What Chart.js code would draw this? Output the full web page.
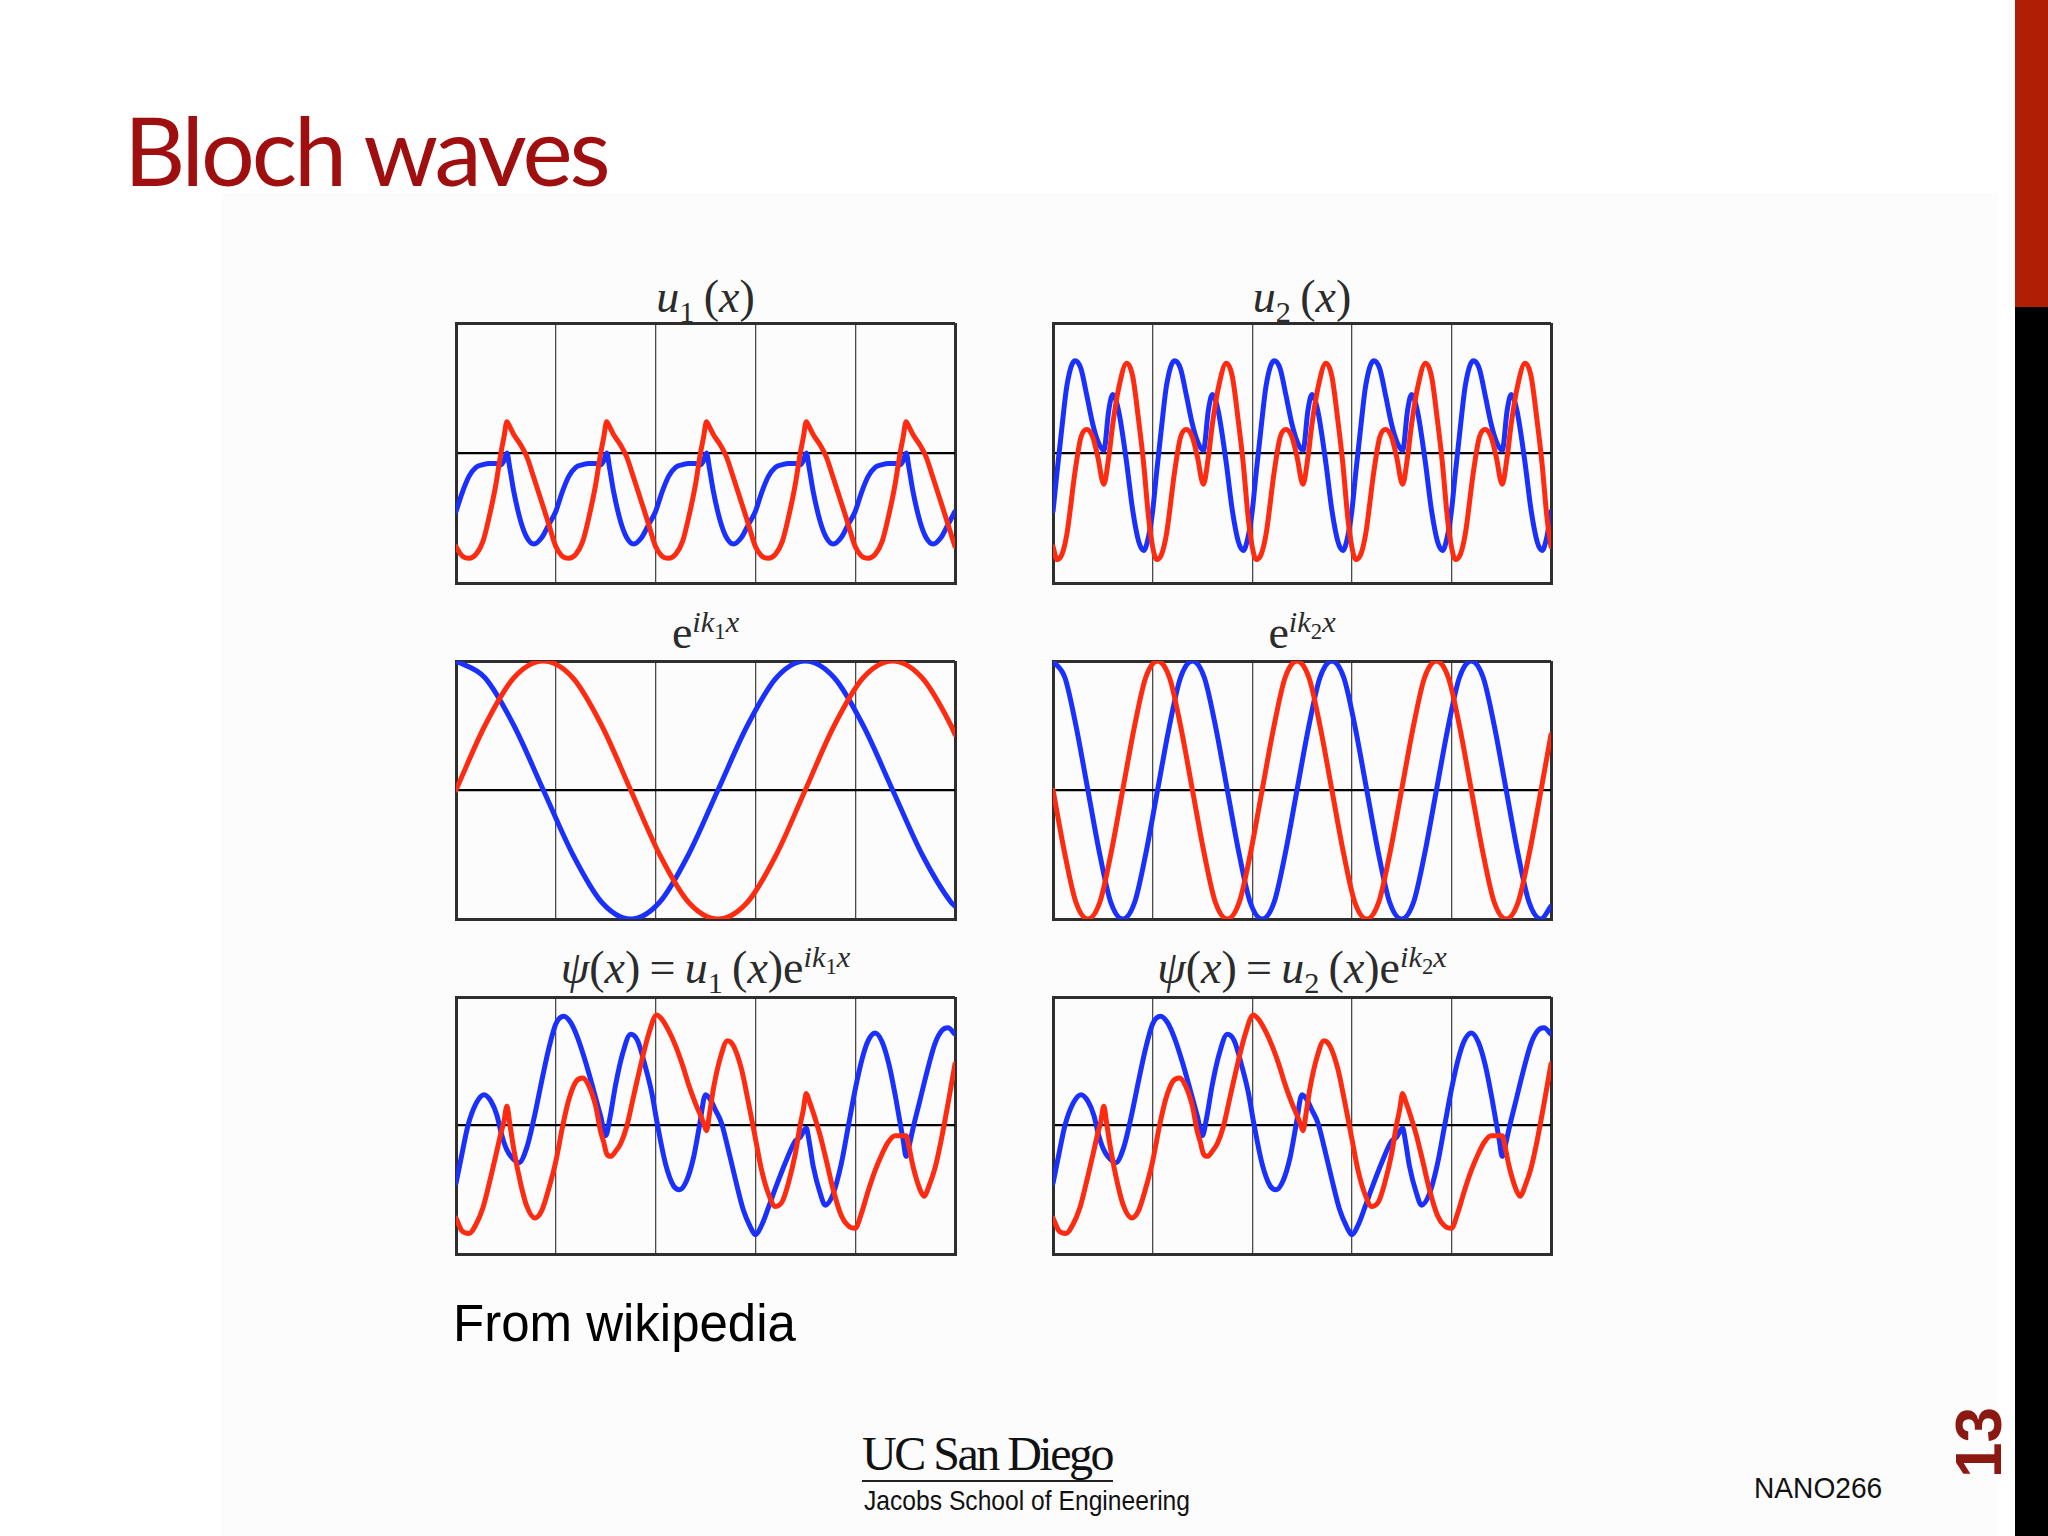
<!DOCTYPE html>
<html><head><meta charset="utf-8">
<script src="https://cdn.jsdelivr.net/npm/chart.js@4.4.1/dist/chart.umd.min.js"></script>
<style>
html,body{margin:0;padding:0;background:#fff;}
body{width:2048px;height:1536px;position:relative;overflow:hidden;font-family:'Liberation Sans',Arial,sans-serif;}
canvas{position:absolute;}
.abs{position:absolute;white-space:nowrap;}
.ttl{position:absolute;text-align:center;font-family:'Liberation Serif','DejaVu Serif',serif;font-size:46px;line-height:46px;color:#2b2b2b;white-space:nowrap;}
.ttl sub,.ttl sup{font-size:0.66em;line-height:0;}
.ttl sup sub{font-size:0.75em;}
</style></head><body>

<div class="abs" style="left:222px;top:193px;width:1776px;height:1343px;background:#fcfcfc;"></div>
<div class="abs" style="left:124px;top:89px;font-family:Lato,'Open Sans',sans-serif;font-size:95px;line-height:120px;color:#a00f10;letter-spacing:-3px;">Bloch waves</div>
<div class="abs" style="left:2015px;top:0;width:33px;height:307px;background:#b01e05;"></div>
<div class="abs" style="left:2015px;top:307px;width:33px;height:1229px;background:#000;"></div>

<div class="ttl" style="left:456px;top:274px;width:499px;"><i>u</i><sub>1</sub>&#8201;(<i>x</i>)</div>
<div class="ttl" style="left:1053px;top:274px;width:498px;"><i>u</i><sub>2</sub>&#8201;(<i>x</i>)</div>
<div class="ttl" style="left:456px;top:610px;width:499px;">e<sup><i>ik</i><sub>1</sub><i>x</i></sup></div>
<div class="ttl" style="left:1053px;top:610px;width:498px;">e<sup><i>ik</i><sub>2</sub><i>x</i></sup></div>
<div class="ttl" style="left:456px;top:945px;width:499px;"><i>ψ</i>(<i>x</i>)&#8201;=&#8201;<i>u</i><sub>1</sub>&#8201;(<i>x</i>)e<sup><i>ik</i><sub>1</sub><i>x</i></sup></div>
<div class="ttl" style="left:1053px;top:945px;width:498px;"><i>ψ</i>(<i>x</i>)&#8201;=&#8201;<i>u</i><sub>2</sub>&#8201;(<i>x</i>)e<sup><i>ik</i><sub>2</sub><i>x</i></sup></div>

<div class="abs" style="left:453px;top:1296px;font-size:51px;line-height:56px;color:#000;">From wikipedia</div>

<div class="abs" style="left:862px;top:1428px;font-family:'Liberation Serif',serif;font-size:48px;line-height:52px;letter-spacing:-2.5px;color:#111;">UC San Diego</div>
<div class="abs" style="left:862px;top:1480px;width:251px;height:2px;background:#222;"></div>
<div class="abs" style="left:864px;top:1484px;font-size:28px;line-height:34px;color:#111;transform:scaleX(0.88);transform-origin:left top;">Jacobs School of Engineering</div>
<div class="abs" style="left:1754px;top:1472px;font-size:29px;line-height:32px;color:#111;transform:scaleX(0.97);transform-origin:left top;">NANO266</div>
<div class="abs" style="left:1947px;top:1478px;font-size:64px;line-height:64px;font-weight:bold;color:#8c1812;transform:rotate(-90deg);transform-origin:left top;">13</div>

<script>
// ---- data (x in unit cells, y normalised to the panel's half-height) ----
const u1X = [0,0.06,0.13,0.2,0.27,0.33,0.4,0.45,0.48,0.51,0.54,0.58,0.65,0.71,0.78,0.86,0.93,
  1,1.06,1.13,1.2,1.27,1.33,1.4,1.45,1.48,1.51,1.54,1.58,1.65,1.71,1.78,1.86,1.93,
  2,2.06,2.13,2.2,2.27,2.33,2.4,2.45,2.48,2.51,2.54,2.58,2.65,2.71,2.78,2.86,2.93,
  3,3.06,3.13,3.2,3.27,3.33,3.4,3.45,3.48,3.51,3.54,3.58,3.65,3.71,3.78,3.86,3.93,
  4,4.06,4.13,4.2,4.27,4.33,4.4,4.45,4.48,4.51,4.54,4.58,4.65,4.71,4.78,4.86,4.93,
  5];
const u1Re = [-0.45,-0.31,-0.18,-0.11,-0.09,-0.08,-0.08,-0.09,-0.06,0,-0.12,-0.3,-0.53,-0.65,-0.7,-0.65,-0.55,
  -0.45,-0.31,-0.18,-0.11,-0.09,-0.08,-0.08,-0.09,-0.06,0,-0.12,-0.3,-0.53,-0.65,-0.7,-0.65,-0.55,
  -0.45,-0.31,-0.18,-0.11,-0.09,-0.08,-0.08,-0.09,-0.06,0,-0.12,-0.3,-0.53,-0.65,-0.7,-0.65,-0.55,
  -0.45,-0.31,-0.18,-0.11,-0.09,-0.08,-0.08,-0.09,-0.06,0,-0.12,-0.3,-0.53,-0.65,-0.7,-0.65,-0.55,
  -0.45,-0.31,-0.18,-0.11,-0.09,-0.08,-0.08,-0.09,-0.06,0,-0.12,-0.3,-0.53,-0.65,-0.7,-0.65,-0.55,
  -0.45];
const u1Im = [-0.72,-0.79,-0.81,-0.78,-0.68,-0.5,-0.24,0,0.12,0.24,0.2,0.14,0.06,-0.03,-0.19,-0.38,-0.55,
  -0.72,-0.79,-0.81,-0.78,-0.68,-0.5,-0.24,0,0.12,0.24,0.2,0.14,0.06,-0.03,-0.19,-0.38,-0.55,
  -0.72,-0.79,-0.81,-0.78,-0.68,-0.5,-0.24,0,0.12,0.24,0.2,0.14,0.06,-0.03,-0.19,-0.38,-0.55,
  -0.72,-0.79,-0.81,-0.78,-0.68,-0.5,-0.24,0,0.12,0.24,0.2,0.14,0.06,-0.03,-0.19,-0.38,-0.55,
  -0.72,-0.79,-0.81,-0.78,-0.68,-0.5,-0.24,0,0.12,0.24,0.2,0.14,0.06,-0.03,-0.19,-0.38,-0.55,
  -0.72];

const u2X = [0,0.04,0.09,0.14,0.22,0.28,0.34,0.4,0.45,0.51,0.56,0.6,0.66,0.74,0.8,0.86,0.91,0.96,
  1,1.04,1.09,1.14,1.22,1.28,1.34,1.4,1.45,1.51,1.56,1.6,1.66,1.74,1.8,1.86,1.91,1.96,
  2,2.04,2.09,2.14,2.22,2.28,2.34,2.4,2.45,2.51,2.56,2.6,2.66,2.74,2.8,2.86,2.91,2.96,
  3,3.04,3.09,3.14,3.22,3.28,3.34,3.4,3.45,3.51,3.56,3.6,3.66,3.74,3.8,3.86,3.91,3.96,
  4,4.04,4.09,4.14,4.22,4.28,4.34,4.4,4.45,4.51,4.56,4.6,4.66,4.74,4.8,4.86,4.91,4.96,
  5];
const u2Re = [-0.45,-0.15,0.2,0.52,0.71,0.65,0.44,0.22,0.09,0.02,0.33,0.45,0.32,-0.08,-0.44,-0.68,-0.75,-0.64,
  -0.45,-0.15,0.2,0.52,0.71,0.65,0.44,0.22,0.09,0.02,0.33,0.45,0.32,-0.08,-0.44,-0.68,-0.75,-0.64,
  -0.45,-0.15,0.2,0.52,0.71,0.65,0.44,0.22,0.09,0.02,0.33,0.45,0.32,-0.08,-0.44,-0.68,-0.75,-0.64,
  -0.45,-0.15,0.2,0.52,0.71,0.65,0.44,0.22,0.09,0.02,0.33,0.45,0.32,-0.08,-0.44,-0.68,-0.75,-0.64,
  -0.45,-0.15,0.2,0.52,0.71,0.65,0.44,0.22,0.09,0.02,0.33,0.45,0.32,-0.08,-0.44,-0.68,-0.75,-0.64,
  -0.45];
const u2Im = [-0.72,-0.82,-0.78,-0.62,-0.15,0.12,0.18,0.12,-0.03,-0.24,-0.03,0.22,0.5,0.69,0.59,0.25,-0.08,-0.5,
  -0.72,-0.82,-0.78,-0.62,-0.15,0.12,0.18,0.12,-0.03,-0.24,-0.03,0.22,0.5,0.69,0.59,0.25,-0.08,-0.5,
  -0.72,-0.82,-0.78,-0.62,-0.15,0.12,0.18,0.12,-0.03,-0.24,-0.03,0.22,0.5,0.69,0.59,0.25,-0.08,-0.5,
  -0.72,-0.82,-0.78,-0.62,-0.15,0.12,0.18,0.12,-0.03,-0.24,-0.03,0.22,0.5,0.69,0.59,0.25,-0.08,-0.5,
  -0.72,-0.82,-0.78,-0.62,-0.15,0.12,0.18,0.12,-0.03,-0.24,-0.03,0.22,0.5,0.69,0.59,0.25,-0.08,-0.5,
  -0.72];

const ek1X  = [0,0.29,0.58,0.875,1.17,1.46,1.75,2.04,2.33,2.625,2.92,3.21,3.5,3.79,4.08,4.375,4.67,4.96,5];
const ek1Re = [1,0.87,0.5,0,-0.5,-0.87,-1,-0.87,-0.5,0,0.5,0.87,1,0.87,0.5,0,-0.5,-0.87,-0.9];
const ek1Im = [0,0.5,0.87,1,0.87,0.5,0,-0.5,-0.87,-1,-0.87,-0.5,0,0.5,0.87,1,0.87,0.5,0.43];

const ek2X  = [0,0.12,0.23,0.35,0.47,0.58,0.7,0.82,0.93,1.05,1.17,1.28,
  1.4,1.52,1.63,1.75,1.87,1.98,2.1,2.22,2.33,2.45,2.57,2.68,
  2.8,2.92,3.03,3.15,3.27,3.38,3.5,3.62,3.73,3.85,3.97,4.08,
  4.2,4.32,4.43,4.55,4.67,4.78,4.9,5];
const ek2Re = [1,0.87,0.5,0,-0.5,-0.87,-1,-0.87,-0.5,0,0.5,0.87,
  1,0.87,0.5,0,-0.5,-0.87,-1,-0.87,-0.5,0,0.5,0.87,
  1,0.87,0.5,0,-0.5,-0.87,-1,-0.87,-0.5,0,0.5,0.87,
  1,0.87,0.5,0,-0.5,-0.87,-1,-0.9];
const ek2Im = [0,-0.5,-0.87,-1,-0.87,-0.5,0,0.5,0.87,1,0.87,0.5,
  0,-0.5,-0.87,-1,-0.87,-0.5,0,0.5,0.87,1,0.87,0.5,
  0,-0.5,-0.87,-1,-0.87,-0.5,0,0.5,0.87,1,0.87,0.5,
  0,-0.5,-0.87,-1,-0.87,-0.5,0,0.43];

const psiRe = [[0,-0.45],[0.06,-0.22],[0.12,0],[0.2,0.17],[0.28,0.24],[0.35,0.19],[0.41,0.08],[0.45,-0.05],[0.48,-0.13],[0.51,-0.19],[0.55,-0.24],[0.63,-0.29],[0.71,-0.17],[0.78,0.05],[0.86,0.35],[0.93,0.6],
  [1,0.79],[1.08,0.85],[1.15,0.8],[1.22,0.68],[1.3,0.49],[1.38,0.27],[1.45,0.07],[1.5,-0.08],[1.54,0.05],[1.6,0.32],[1.67,0.56],[1.75,0.71],[1.82,0.66],[1.9,0.45],[1.96,0.26],
  [2.02,0],[2.1,-0.3],[2.18,-0.47],[2.24,-0.5],[2.31,-0.43],[2.38,-0.25],[2.44,0],[2.5,0.24],[2.55,0.2],[2.6,0.12],[2.66,0.02],[2.72,-0.16],[2.8,-0.42],[2.88,-0.66],[2.95,-0.79],
  [3,-0.85],[3.06,-0.78],[3.13,-0.64],[3.2,-0.49],[3.3,-0.29],[3.4,-0.12],[3.45,-0.09],[3.51,-0.02],[3.54,-0.13],[3.58,-0.32],[3.65,-0.53],[3.7,-0.62],[3.78,-0.53],[3.86,-0.3],[3.93,-0.01],
  [4,0.28],[4.07,0.52],[4.13,0.66],[4.2,0.72],[4.27,0.65],[4.34,0.47],[4.4,0.24],[4.45,0.02],[4.48,-0.11],[4.51,-0.24],[4.54,-0.16],[4.58,-0.02],[4.65,0.2],[4.72,0.42],[4.8,0.64],[4.87,0.74],[4.93,0.76],[5,0.71]];
const psiIm = [[0,-0.72],[0.06,-0.82],[0.13,-0.84],[0.2,-0.77],[0.27,-0.64],[0.33,-0.46],[0.4,-0.23],[0.45,-0.06],[0.48,0.03],[0.51,0.15],[0.54,0.01],[0.58,-0.19],[0.65,-0.46],[0.71,-0.63],[0.79,-0.72],[0.86,-0.66],[0.93,-0.49],
  [1,-0.28],[1.07,0],[1.13,0.2],[1.2,0.34],[1.27,0.37],[1.33,0.31],[1.4,0.15],[1.45,-0.05],[1.48,-0.13],[1.51,-0.22],[1.55,-0.24],[1.6,-0.2],[1.65,-0.14],[1.71,-0.01],[1.78,0.23],[1.86,0.5],[1.93,0.71],
  [2.01,0.86],[2.06,0.83],[2.13,0.74],[2.2,0.62],[2.27,0.47],[2.33,0.32],[2.4,0.17],[2.45,0.08],[2.48,0.02],[2.51,-0.04],[2.54,0.09],[2.58,0.29],[2.65,0.53],[2.72,0.66],[2.78,0.62],[2.86,0.44],[2.93,0.18],
  [3,-0.1],[3.06,-0.34],[3.13,-0.53],[3.2,-0.63],[3.27,-0.59],[3.33,-0.45],[3.4,-0.22],[3.45,0.01],[3.48,0.12],[3.51,0.25],[3.54,0.19],[3.58,0.1],[3.65,-0.08],[3.71,-0.27],[3.78,-0.5],[3.86,-0.7],[3.93,-0.78],
  [4,-0.8],[4.06,-0.69],[4.13,-0.51],[4.2,-0.35],[4.27,-0.22],[4.33,-0.13],[4.4,-0.08],[4.46,-0.08],[4.51,-0.08],[4.54,-0.17],[4.58,-0.32],[4.65,-0.5],[4.69,-0.55],[4.74,-0.47],[4.8,-0.33],[4.86,-0.12],[4.93,0.17],[5,0.48]];

const xTicks = [0, 5];      // axis range in unit cells
const yTicks = [-1, 1];     // normalised amplitude range
const BLUE = '#1a30ff', RED = '#ff2b10';

// ---- helpers ----
const xy = (X, Y) => X.map((x, i) => ({x: x, y: Y[i]}));
const pairs = P => P.map(p => ({x: p[0], y: p[1]}));

function panel(box, re, im) {
  const P = 8;
  const c = document.createElement('canvas');
  c.width = box[2] + 2 * P; c.height = box[3] + 2 * P;
  c.style.left = (box[0] - P) + 'px'; c.style.top = (box[1] - P) + 'px';
  document.body.appendChild(c);
  const frame = '#2e2e2e';
  new Chart(c, {
    type: 'line',
    data: { datasets: [
      { data: im, borderColor: RED, borderWidth: 5 },
      { data: re, borderColor: BLUE, borderWidth: 5 }
    ].map(d => Object.assign(d, { pointRadius: 0, fill: false, cubicInterpolationMode: 'monotone',
                                   borderCapStyle: 'round', borderJoinStyle: 'round' })) },
    options: {
      responsive: false, animation: false, devicePixelRatio: 1, events: [],
      layout: { padding: P },
      plugins: { legend: { display: false }, tooltip: { enabled: false } },
      scales: {
        x: { type: 'linear', min: xTicks[0], max: xTicks[1], z: 1,
             ticks: { display: false, stepSize: 1 },
             grid: { drawTicks: false,
                     color: ctx => (ctx.tick && (ctx.tick.value === xTicks[0] || ctx.tick.value === xTicks[1])) ? frame : '#4a4a4a',
                     lineWidth: ctx => (ctx.tick && (ctx.tick.value === xTicks[0] || ctx.tick.value === xTicks[1])) ? 3 : 1.3 },
             border: { display: true, color: frame, width: 3 } },
        y: { type: 'linear', min: yTicks[0], max: yTicks[1], z: 1,
             ticks: { display: false, stepSize: 1 },
             grid: { drawTicks: false,
                     color: ctx => (ctx.tick && ctx.tick.value === 0) ? '#000' : frame,
                     lineWidth: ctx => (ctx.tick && ctx.tick.value === 0) ? 2.2 : 3 },
             border: { display: true, color: frame, width: 3 } }
      }
    }
  });
}

panel([456, 323, 499, 260], xy(u1X, u1Re), xy(u1X, u1Im));
panel([1053, 323, 498, 260], xy(u2X, u2Re), xy(u2X, u2Im));
panel([456, 661, 499, 258], xy(ek1X, ek1Re), xy(ek1X, ek1Im));
panel([1053, 661, 498, 258], xy(ek2X, ek2Re), xy(ek2X, ek2Im));
panel([456, 997, 499, 257], pairs(psiRe), pairs(psiIm));
panel([1053, 997, 498, 257], pairs(psiRe), pairs(psiIm));
</script>
</body></html>
